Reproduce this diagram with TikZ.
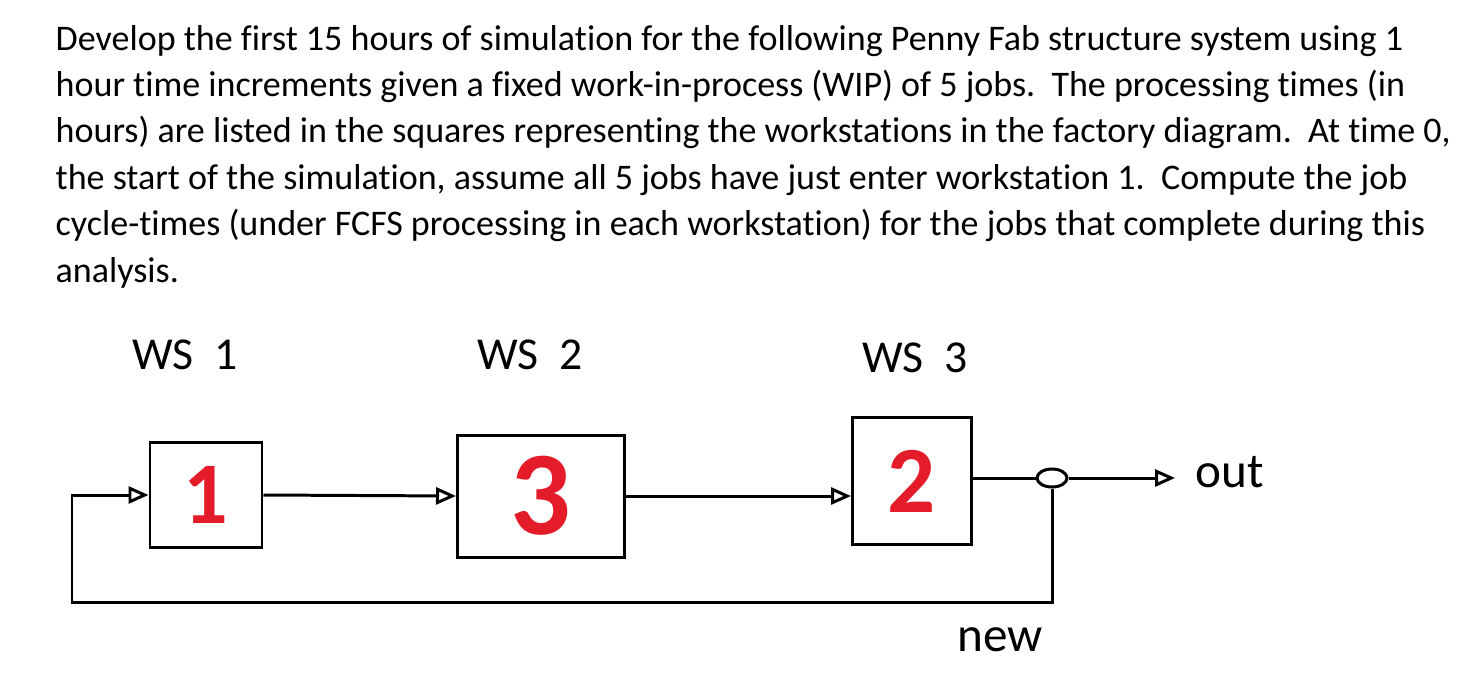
\documentclass[tikz,border=0pt]{standalone}
\usepackage{fontspec}
\usepackage{xcolor}
\usepackage{tikz}
\usetikzlibrary{arrows.meta, shapes.geometric}
\setmainfont{Carlito}[Ligatures={NoCommon}]

\definecolor{penred}{RGB}{228,28,42}

\begin{document}
\begin{tikzpicture}[
  txt/.style={anchor=base west, inner sep=0pt, font=\fontsize{10.25}{13}\selectfont},
  station/.style={draw, line width=0.85pt, minimum width=#1},
  hand/.style={inner sep=0pt, font=\fontsize{13}{15}\selectfont},
  flow/.style={line width=0.85pt, -{Triangle[open, length=2mm, width=1.7mm]}},
  wire/.style={line width=0.85pt}
]
\fill[white] (0,0) rectangle (14.64,6.92);
\useasboundingbox (0,0) rectangle (14.64,6.92);

\node[txt] (q1) at (0.55, 6.42) {Develop the first 15 hours of simulation for the following Penny Fab structure system using 1};
\node[txt] (q2) at (0.55, 5.956) {hour time increments given a fixed work-in-process (WIP) of 5 jobs.\ \ The processing times (in};
\node[txt] (q3) at (0.55, 5.492) {hours) are listed in the squares representing the workstations in the factory diagram.\ \ At time 0,};
\node[txt] (q4) at (0.55, 5.028) {the start of the simulation, assume all 5 jobs have just enter workstation 1.\ \ Compute the job};
\node[txt] (q5) at (0.55, 4.564) {cycle-times (under FCFS processing in each workstation) for the jobs that complete during this};
\node[txt] (q6) at (0.55, 4.10) {analysis.};

\node[hand] (lab1) at (1.85, 3.37) {WS\ \ 1};
\node[hand] (lab2) at (5.30, 3.37) {WS\ \ 2};
\node[hand] (lab3) at (9.15, 3.34) {WS\ \ 3};

\node[station=1.12cm, minimum height=1.05cm, text=penred, font=\fontsize{25}{25}\selectfont\bfseries] (ws1) at (2.06, 1.97) {1};
\node[station=1.67cm, minimum height=1.22cm, text=penred, font=\fontsize{34}{34}\selectfont\bfseries] (ws2) at (5.41, 1.96) {3};
\node[station=1.19cm, minimum height=1.27cm, text=penred, font=\fontsize{27}{27}\selectfont\bfseries] (ws3) at (9.12, 2.11) {2};

\node[draw, ellipse, line width=0.85pt, minimum width=0.3cm, minimum height=0.18cm, inner sep=0pt] (split) at (10.52, 2.14) {};
\node[hand, anchor=west, font=\fontsize{14}{16}\selectfont] (out) at (11.95, 2.20) {out};
\node[hand, font=\fontsize{14}{16}\selectfont] (new) at (10.00, 0.52) {new};
\coordinate (loop) at (0.72, 0.90);

\draw[flow] (ws1.east) -- (ws2.west);
\draw[flow] (ws2.east) -- (ws2.east -| ws3.west);
\draw[wire] (ws3.east |- split.west) -- (split.west);
\draw[flow] (split.east) -- ([xshift=-0.2cm]split.east -| out.west);
\draw[flow] (split.south) |- (loop) |- (ws1.west);
\end{tikzpicture}
\end{document}
